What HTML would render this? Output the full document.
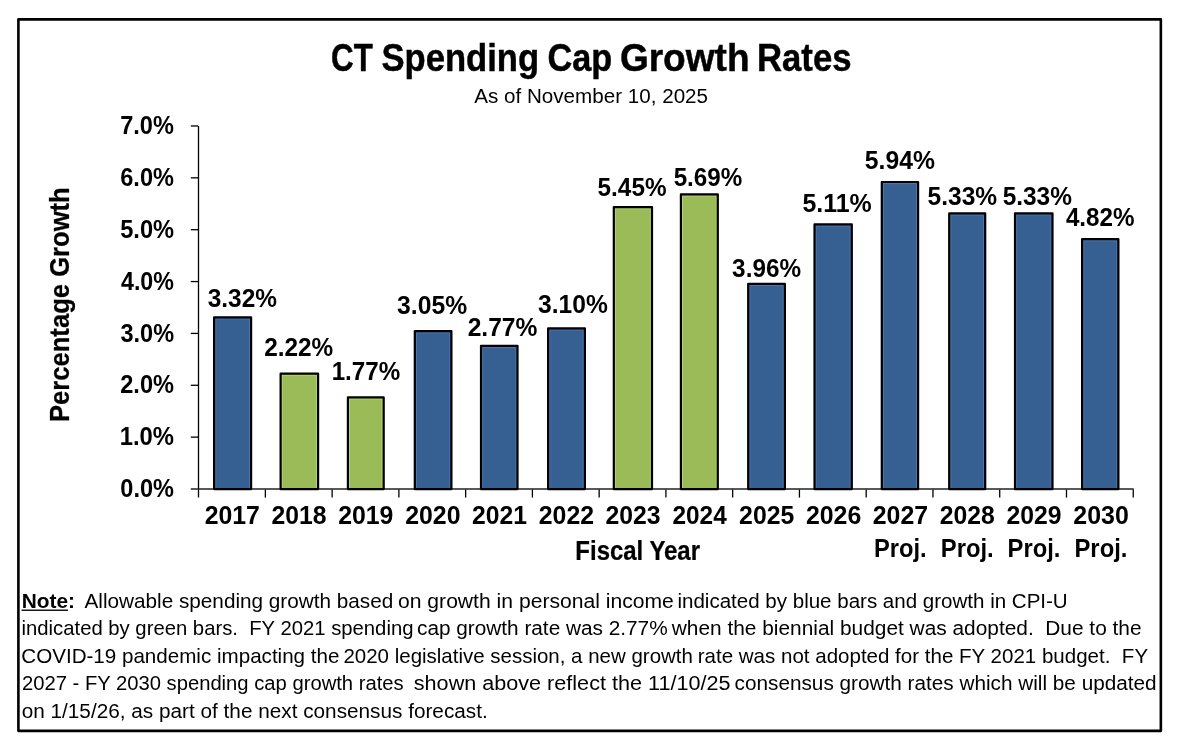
<!DOCTYPE html><html><head><meta charset="utf-8"><style>html,body{margin:0;padding:0;background:#fff;width:1182px;height:748px;overflow:hidden}svg{display:block;will-change:transform}text{font-family:"Liberation Sans",sans-serif;fill:#000;white-space:pre}</style></head><body><svg width="1182" height="748" viewBox="0 0 1182 748"><rect x="18.4" y="19.4" width="1142.45" height="711.45" fill="none" stroke="#000" stroke-width="2.6" stroke-linejoin="round"/>
<g stroke="#000" stroke-width="1.3" fill="none">
<path d="M198.5 126V497.6"/>
<path d="M190.8 437.14H198"/>
<path d="M190.8 385.28H198"/>
<path d="M190.8 333.42H198"/>
<path d="M190.8 281.56H198"/>
<path d="M190.8 229.70H198"/>
<path d="M190.8 177.84H198"/>
<path d="M190.8 125.98H198"/>
<path d="M190.8 489H1133.8" stroke="#222" stroke-width="1.6"/>
<path d="M265.36 489.5V497.6"/>
<path d="M332.12 489.5V497.6"/>
<path d="M398.88 489.5V497.6"/>
<path d="M465.64 489.5V497.6"/>
<path d="M532.40 489.5V497.6"/>
<path d="M599.16 489.5V497.6"/>
<path d="M665.92 489.5V497.6"/>
<path d="M732.68 489.5V497.6"/>
<path d="M799.44 489.5V497.6"/>
<path d="M866.20 489.5V497.6"/>
<path d="M932.96 489.5V497.6"/>
<path d="M999.72 489.5V497.6"/>
<path d="M1066.48 489.5V497.6"/>
<path d="M1133.24 489.5V497.6"/>
</g>
<rect x="214.10" y="317.30" width="37.00" height="171.80" fill="#376092"/>
<path d="M215.70 489.10V318.90H249.50V489.10" fill="none" stroke="#4A78B0" stroke-width="1"/>
<rect x="214.10" y="317.30" width="37.00" height="171.80" fill="none" stroke="#000" stroke-width="2.2" stroke-linejoin="round"/>
<rect x="280.60" y="373.70" width="37.50" height="115.40" fill="#9BBB59"/>
<path d="M282.20 489.10V375.30H316.50V489.10" fill="none" stroke="#B2D46E" stroke-width="1"/>
<rect x="280.60" y="373.70" width="37.50" height="115.40" fill="none" stroke="#000" stroke-width="2.2" stroke-linejoin="round"/>
<rect x="347.90" y="397.40" width="35.80" height="91.70" fill="#9BBB59"/>
<path d="M349.50 489.10V399.00H382.10V489.10" fill="none" stroke="#B2D46E" stroke-width="1"/>
<rect x="347.90" y="397.40" width="35.80" height="91.70" fill="none" stroke="#000" stroke-width="2.2" stroke-linejoin="round"/>
<rect x="414.80" y="331.20" width="36.60" height="157.90" fill="#376092"/>
<path d="M416.40 489.10V332.80H449.80V489.10" fill="none" stroke="#4A78B0" stroke-width="1"/>
<rect x="414.80" y="331.20" width="36.60" height="157.90" fill="none" stroke="#000" stroke-width="2.2" stroke-linejoin="round"/>
<rect x="481.00" y="345.80" width="36.50" height="143.30" fill="#376092"/>
<path d="M482.60 489.10V347.40H515.90V489.10" fill="none" stroke="#4A78B0" stroke-width="1"/>
<rect x="481.00" y="345.80" width="36.50" height="143.30" fill="none" stroke="#000" stroke-width="2.2" stroke-linejoin="round"/>
<rect x="548.10" y="328.30" width="36.80" height="160.80" fill="#376092"/>
<path d="M549.70 489.10V329.90H583.30V489.10" fill="none" stroke="#4A78B0" stroke-width="1"/>
<rect x="548.10" y="328.30" width="36.80" height="160.80" fill="none" stroke="#000" stroke-width="2.2" stroke-linejoin="round"/>
<rect x="613.80" y="207.20" width="38.20" height="281.90" fill="#9BBB59"/>
<path d="M615.40 489.10V208.80H650.40V489.10" fill="none" stroke="#B2D46E" stroke-width="1"/>
<rect x="613.80" y="207.20" width="38.20" height="281.90" fill="none" stroke="#000" stroke-width="2.2" stroke-linejoin="round"/>
<rect x="680.90" y="194.30" width="36.90" height="294.80" fill="#9BBB59"/>
<path d="M682.50 489.10V195.90H716.20V489.10" fill="none" stroke="#B2D46E" stroke-width="1"/>
<rect x="680.90" y="194.30" width="36.90" height="294.80" fill="none" stroke="#000" stroke-width="2.2" stroke-linejoin="round"/>
<rect x="748.20" y="283.80" width="36.70" height="205.30" fill="#376092"/>
<path d="M749.80 489.10V285.40H783.30V489.10" fill="none" stroke="#4A78B0" stroke-width="1"/>
<rect x="748.20" y="283.80" width="36.70" height="205.30" fill="none" stroke="#000" stroke-width="2.2" stroke-linejoin="round"/>
<rect x="814.50" y="224.40" width="37.30" height="264.70" fill="#376092"/>
<path d="M816.10 489.10V226.00H850.20V489.10" fill="none" stroke="#4A78B0" stroke-width="1"/>
<rect x="814.50" y="224.40" width="37.30" height="264.70" fill="none" stroke="#000" stroke-width="2.2" stroke-linejoin="round"/>
<rect x="881.80" y="182.00" width="36.30" height="307.10" fill="#376092"/>
<path d="M883.40 489.10V183.60H916.50V489.10" fill="none" stroke="#4A78B0" stroke-width="1"/>
<rect x="881.80" y="182.00" width="36.30" height="307.10" fill="none" stroke="#000" stroke-width="2.2" stroke-linejoin="round"/>
<rect x="949.20" y="213.40" width="36.00" height="275.70" fill="#376092"/>
<path d="M950.80 489.10V215.00H983.60V489.10" fill="none" stroke="#4A78B0" stroke-width="1"/>
<rect x="949.20" y="213.40" width="36.00" height="275.70" fill="none" stroke="#000" stroke-width="2.2" stroke-linejoin="round"/>
<rect x="1015.00" y="213.30" width="37.50" height="275.80" fill="#376092"/>
<path d="M1016.60 489.10V214.90H1050.90V489.10" fill="none" stroke="#4A78B0" stroke-width="1"/>
<rect x="1015.00" y="213.30" width="37.50" height="275.80" fill="none" stroke="#000" stroke-width="2.2" stroke-linejoin="round"/>
<rect x="1082.10" y="239.20" width="36.30" height="249.90" fill="#376092"/>
<path d="M1083.70 489.10V240.80H1116.80V489.10" fill="none" stroke="#4A78B0" stroke-width="1"/>
<rect x="1082.10" y="239.20" width="36.30" height="249.90" fill="none" stroke="#000" stroke-width="2.2" stroke-linejoin="round"/>
<text transform="translate(331.11 70.90) scale(0.8226 1)" font-weight="bold" stroke="#000" stroke-width="0.45" font-size="38.11">CT</text>
<text transform="translate(381.46 70.90) scale(0.9082 1)" font-weight="bold" stroke="#000" stroke-width="0.45" font-size="38.11">Spending</text>
<text transform="translate(547.41 70.90) scale(0.8997 1)" font-weight="bold" stroke="#000" stroke-width="0.45" font-size="38.11">Cap</text>
<text transform="translate(619.89 70.90) scale(0.9721 1)" font-weight="bold" stroke="#000" stroke-width="0.45" font-size="38.11">Growth</text>
<text transform="translate(757.00 70.90) scale(0.9112 1)" font-weight="bold" stroke="#000" stroke-width="0.45" font-size="38.11">Rates</text>
<text transform="translate(474.15 102.80) scale(1.0062 1)" font-size="20.51">As of November 10, 2025</text>
<text transform="translate(120.30 497.10) scale(0.9408 1)" font-weight="bold" font-size="25.02">0.0%</text>
<text transform="translate(119.71 445.24) scale(0.9527 1)" font-weight="bold" font-size="25.02">1.0%</text>
<text transform="translate(120.25 393.38) scale(0.9433 1)" font-weight="bold" font-size="25.02">2.0%</text>
<text transform="translate(120.44 341.52) scale(0.9407 1)" font-weight="bold" font-size="25.02">3.0%</text>
<text transform="translate(120.95 289.66) scale(0.9293 1)" font-weight="bold" font-size="25.02">4.0%</text>
<text transform="translate(120.18 237.80) scale(0.9453 1)" font-weight="bold" font-size="25.02">5.0%</text>
<text transform="translate(120.25 185.94) scale(0.9415 1)" font-weight="bold" font-size="25.02">6.0%</text>
<text transform="translate(120.15 134.08) scale(0.9421 1)" font-weight="bold" font-size="25.02">7.0%</text>
<text transform="translate(69.30 422.06) rotate(-90) scale(0.9572 1)" font-weight="bold" stroke="#000" stroke-width="0.25" font-size="26.76">Percentage Growth</text>
<text transform="translate(204.68 524.00) scale(0.9922 1)" font-weight="bold" font-size="25.02">2017</text>
<text transform="translate(271.48 524.00) scale(0.9893 1)" font-weight="bold" font-size="25.02">2018</text>
<text transform="translate(338.19 524.00) scale(0.9924 1)" font-weight="bold" font-size="25.02">2019</text>
<text transform="translate(405.15 524.00) scale(0.9940 1)" font-weight="bold" font-size="25.02">2020</text>
<text transform="translate(471.99 524.00) scale(0.9868 1)" font-weight="bold" font-size="25.02">2021</text>
<text transform="translate(538.80 524.00) scale(0.9923 1)" font-weight="bold" font-size="25.02">2022</text>
<text transform="translate(605.59 524.00) scale(0.9894 1)" font-weight="bold" font-size="25.02">2023</text>
<text transform="translate(672.43 524.00) scale(0.9755 1)" font-weight="bold" font-size="25.02">2024</text>
<text transform="translate(739.11 524.00) scale(0.9912 1)" font-weight="bold" font-size="25.02">2025</text>
<text transform="translate(805.94 524.00) scale(0.9935 1)" font-weight="bold" font-size="25.02">2026</text>
<text transform="translate(872.75 524.00) scale(0.9940 1)" font-weight="bold" font-size="25.02">2027</text>
<text transform="translate(874.03 556.60) scale(0.9479 1)" font-weight="bold" font-size="25.02">Proj.</text>
<text transform="translate(939.70 524.00) scale(0.9881 1)" font-weight="bold" font-size="25.02">2028</text>
<text transform="translate(940.81 556.60) scale(0.9515 1)" font-weight="bold" font-size="25.02">Proj.</text>
<text transform="translate(1006.49 524.00) scale(0.9901 1)" font-weight="bold" font-size="25.02">2029</text>
<text transform="translate(1007.59 556.60) scale(0.9500 1)" font-weight="bold" font-size="25.02">Proj.</text>
<text transform="translate(1073.30 524.00) scale(0.9960 1)" font-weight="bold" font-size="25.02">2030</text>
<text transform="translate(1074.48 556.60) scale(0.9530 1)" font-weight="bold" font-size="25.02">Proj.</text>
<text transform="translate(575.36 559.75) scale(0.8948 1)" font-weight="bold" stroke="#000" stroke-width="0.25" font-size="26.76">Fiscal Year</text>
<text transform="translate(207.64 306.70) scale(0.9775 1)" font-weight="bold" font-size="25.02">3.32%</text>
<text transform="translate(264.24 356.20) scale(0.9733 1)" font-weight="bold" font-size="25.02">2.22%</text>
<text transform="translate(331.65 380.20) scale(0.9666 1)" font-weight="bold" font-size="25.02">1.77%</text>
<text transform="translate(397.10 313.60) scale(0.9870 1)" font-weight="bold" font-size="25.02">3.05%</text>
<text transform="translate(467.63 335.80) scale(0.9839 1)" font-weight="bold" font-size="25.02">2.77%</text>
<text transform="translate(537.99 312.80) scale(0.9841 1)" font-weight="bold" font-size="25.02">3.10%</text>
<text transform="translate(597.61 195.70) scale(0.9712 1)" font-weight="bold" font-size="25.02">5.45%</text>
<text transform="translate(673.65 186.20) scale(0.9680 1)" font-weight="bold" font-size="25.02">5.69%</text>
<text transform="translate(732.12 276.90) scale(0.9714 1)" font-weight="bold" font-size="25.02">3.96%</text>
<text transform="translate(802.38 212.20) scale(0.9970 1)" font-weight="bold" font-size="25.02">5.11%</text>
<text transform="translate(864.84 168.90) scale(0.9876 1)" font-weight="bold" font-size="25.02">5.94%</text>
<text transform="translate(927.59 204.50) scale(0.9810 1)" font-weight="bold" font-size="25.02">5.33%</text>
<text transform="translate(1002.65 204.60) scale(0.9770 1)" font-weight="bold" font-size="25.02">5.33%</text>
<text transform="translate(1065.91 226.20) scale(0.9676 1)" font-weight="bold" font-size="25.02">4.82%</text>
<text transform="translate(21.66 607.50) scale(1.0264 1)" font-weight="bold" font-size="20.36">Note:</text>
<text transform="translate(84.53 607.50) scale(1.0183 1)" font-size="20.36">Allowable spending growth based</text>
<text transform="translate(398.00 607.50) scale(1.0379 1)" font-size="20.36">on growth in personal income</text>
<text transform="translate(677.45 607.50) scale(1.0089 1)" font-size="20.36">indicated by blue bars and growth in CPI-U</text>
<text transform="translate(21.51 635.10) scale(0.9967 1)" font-size="20.36">indicated by green bars.  FY 2021 spending</text>
<text transform="translate(417.00 635.10) scale(1.0211 1)" font-size="20.36">cap growth rate was 2.77%</text>
<text transform="translate(671.79 635.10) scale(1.0250 1)" font-size="20.36">when the biennial budget was adopted.  Due to the</text>
<text transform="translate(21.29 662.70) scale(1.0118 1)" font-size="20.36">COVID-19 pandemic impacting the</text>
<text transform="translate(343.46 662.70) scale(1.0068 1)" font-size="20.36">2020 legislative session, a new growth</text>
<text transform="translate(697.70 662.70) scale(1.0088 1)" font-size="20.36">rate was not adopted for the FY 2021 budget.  FY</text>
<text transform="translate(21.95 690.30) scale(0.9934 1)" font-size="20.36">2027 - FY 2030 spending cap growth rates</text>
<text transform="translate(413.80 690.30) scale(1.0618 1)" font-size="20.36">shown above reflect the 11/10/25</text>
<text transform="translate(734.58 690.30) scale(1.0196 1)" font-size="20.36">consensus growth rates which will be updated</text>
<text transform="translate(21.67 717.90) scale(1.0203 1)" font-size="20.36">on 1/15/26, as part of the next consensus forecast.</text>
<rect x="21.5" y="609.55" width="46.5" height="1.35" fill="#000"/></svg></body></html>
